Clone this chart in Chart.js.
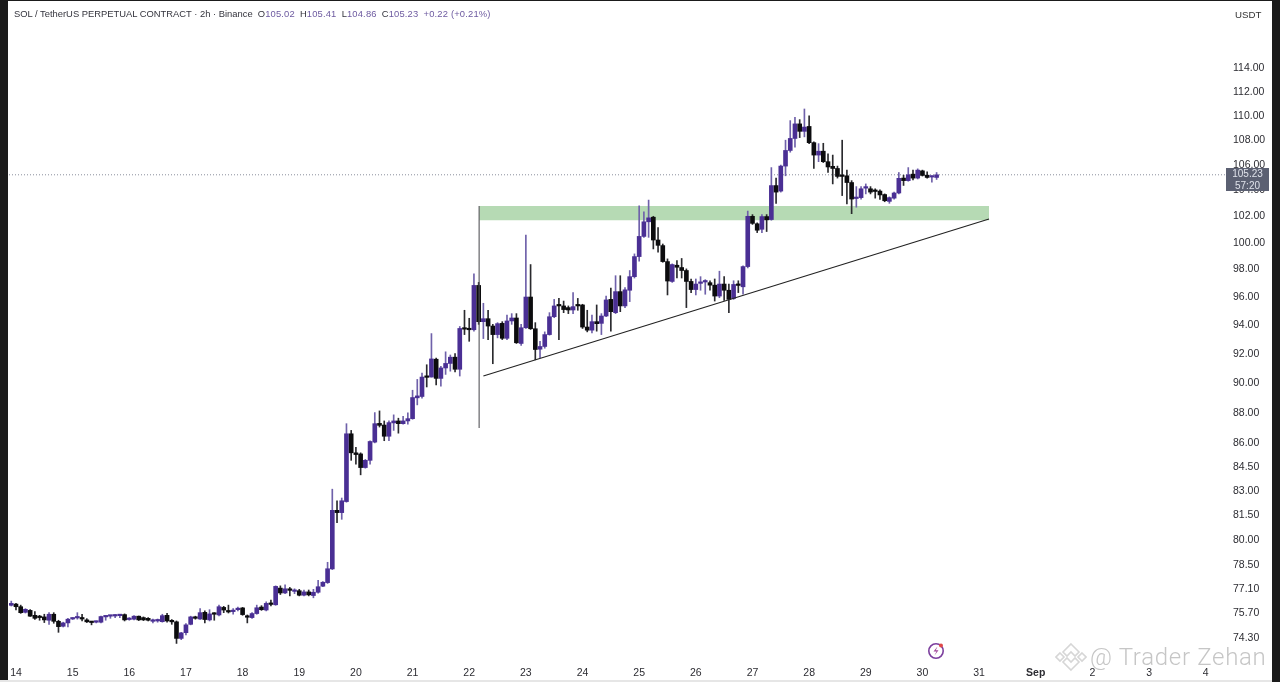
<!DOCTYPE html>
<html><head><meta charset="utf-8">
<script src="https://cdn.jsdelivr.net/npm/chart.js@4"></script>
<style>
html,body{margin:0;padding:0;background:#1b1b1b;width:1280px;height:682px;overflow:hidden}
#wrap{position:absolute;left:8px;top:1px;width:1264px;height:679px;background:#fff}
#foot{position:absolute;left:0;top:680px;width:1272px;height:2px;background:#e6e6e6}
canvas{position:absolute;left:0;top:0}
.t{position:absolute;font-family:"Liberation Sans",sans-serif;white-space:nowrap}
#head{left:6px;top:7px;font-size:9.4px;color:#33333c}
#head b{font-weight:400;color:#6d5aa0;letter-spacing:.17px}
#usdt{left:1227px;top:8px;font-size:9.7px;color:#333}
#tag{left:1218px;top:167px;width:43px;height:23px;background:#5b6072;color:#dfe2ea;font-size:10px;line-height:11.5px;text-align:center}
#wm{left:1082px;top:642px;font-size:24px;font-weight:300;color:#c6c6c6;letter-spacing:.7px;font-family:Roboto,"Liberation Sans",sans-serif}
svg{position:absolute}
</style></head><body>
<div id="foot"></div>
<div id="wrap">
<canvas id="c" width="1264" height="679"></canvas>
<div class="t" id="head">SOL / TetherUS PERPETUAL CONTRACT · 2h · Binance &nbsp;O<b>105.02</b> &nbsp;H<b>105.41</b> &nbsp;L<b>104.86</b> &nbsp;C<b>105.23</b> &nbsp;<b>+0.22 (+0.21%)</b></div>
<div class="t" id="usdt">USDT</div>
<div class="t" id="tag">105.23<br>57:20</div>
<div class="t" id="wm">@ Trader Zehan</div>
<svg style="left:1047px;top:641px" width="32" height="30" viewBox="0 0 32 30" fill="none" stroke="#d6d6d6" stroke-width="1.6"><path d="M16 2 24 10 20 14 16 10 12 14 8 10Z"/><path d="M5 11 9 15 5 19 1 15Z"/><path d="M27 11 31 15 27 19 23 15Z"/><path d="M16 28 24 20 20 16 16 20 12 16 8 20Z"/></svg>
<svg style="left:918px;top:640px" width="20" height="20" viewBox="0 0 20 20" fill="none"><circle cx="10" cy="10" r="7.2" stroke="#7c3f9e" stroke-width="1.6"/><path d="M11.5 5.5 7.5 10.5H10.5L8.5 14.5 12.5 9.2H9.8Z" fill="#a0489a"/><circle cx="15" cy="4.5" r="2" fill="#e04848"/></svg>
</div>
<script>
const firstIndex = -1;
const opens = [76.16,76.23,76.08,75.76,75.87,75.59,75.50,75.50,75.31,75.65,75.25,74.97,75.16,75.38,75.44,75.42,75.33,75.20,75.20,75.20,75.50,75.54,75.55,75.57,75.63,75.35,75.37,75.54,75.46,75.42,75.25,75.27,75.23,75.59,75.27,75.22,
74.29,74.61,75.08,75.48,75.38,75.76,75.33,75.70,75.61,76.04,75.85,75.80,75.91,76.01,75.55,75.46,75.69,76.06,75.89,76.27,76.19,77.15,76.87,77.11,76.96,77.00,76.74,76.93,76.72,76.91,77.26,77.47,
78.27,81.79,81.65,82.33,86.63,85.40,85.33,84.46,84.92,86.09,87.31,87.20,86.47,87.34,87.47,87.29,87.47,87.62,89.00,89.09,90.44,90.40,91.62,90.31,91.02,91.33,91.76,90.93,
93.79,93.74,93.67,96.84,94.24,94.45,93.93,93.33,94.12,93.07,94.29,94.50,92.71,93.81,96.0,93.74,92.31,92.50,93.33,94.59,95.43,95.36,95.24,95.07,95.43,95.43,93.86,93.64,94.24,94.12,94.64,95.83,
94.88,96.39,95.36,96.49,97.48,98.96,100.47,101.58,101.93,100.2,99.78,98.59,97.13,98.32,98.15,97.93,97.13,96.54,96.99,97.09,97.04,96.86,96.07,96.94,96.49,95.9,96.94,96.74,98.22,102.0,101.43,101.01,101.98,
101.75,104.38,103.95,105.92,107.17,108.14,109.33,108.72,109.12,107.8,106.8,107.11,106.27,105.9,105.73,105.15,105.15,104.62,103.37,103.44,104.18,104.13,104.0,103.95,103.68,103.15,103.4,103.8,104.97,104.77,105.28,104.97,105.54,105.2,105.05,105.02];
const closes = [76.27,76.08,75.74,75.93,75.54,75.42,75.46,75.33,75.65,75.25,74.95,75.16,75.37,75.44,75.50,75.38,75.22,75.18,75.23,75.52,75.54,75.57,75.59,75.61,75.33,75.42,75.54,75.33,75.33,75.31,75.31,75.35,75.57,75.27,75.22,74.29,
74.60,75.05,75.50,75.42,75.74,75.35,75.67,75.65,76.08,75.89,75.78,75.85,75.99,75.63,75.48,75.69,76.02,75.91,76.27,76.21,77.25,76.87,77.11,77.02,77.00,76.74,76.93,76.76,76.91,77.23,77.49,78.28,
81.79,81.65,82.38,86.63,85.40,85.29,84.46,84.92,86.13,87.29,87.18,86.47,87.36,87.47,87.29,87.47,87.62,89.02,89.13,90.40,90.38,91.64,90.31,91.02,91.33,91.76,90.93,93.76,
93.71,93.67,96.84,94.24,94.45,93.93,93.33,94.10,93.07,94.29,94.50,92.76,93.81,96.0,93.74,92.29,92.50,93.33,94.59,95.36,95.36,95.10,95.07,95.31,95.36,93.86,93.64,94.24,94.10,94.64,95.79,94.95,
96.39,95.36,96.52,97.48,98.96,100.47,101.58,101.88,100.2,99.8,98.59,97.16,98.37,98.17,97.93,97.13,96.54,96.94,97.04,97.13,96.86,96.07,96.94,96.49,95.83,96.91,96.84,98.22,102.0,101.46,100.94,101.98,101.73,
104.38,103.87,105.92,107.17,108.14,109.33,108.72,109.07,107.8,106.8,107.11,106.27,105.85,105.73,105.1,105.1,104.62,103.33,103.44,104.13,104.23,103.87,103.92,103.65,103.2,103.44,103.8,104.95,104.77,105.23,104.97,105.6,105.18,105.02,105.08,105.23];
const highs = [76.40,76.27,76.17,75.97,75.91,75.80,75.59,75.65,75.74,75.74,75.31,75.20,75.42,75.46,75.74,75.65,75.40,75.22,75.27,75.55,75.55,75.59,75.63,75.65,75.67,75.46,75.57,75.55,75.50,75.46,75.37,75.38,75.65,75.70,75.35,75.27,
74.63,75.12,75.54,75.54,75.97,75.84,75.91,75.74,76.17,76.10,76.17,75.97,76.06,76.04,75.61,75.74,76.17,76.14,76.36,76.46,77.28,77.28,77.34,77.19,77.11,77.08,77.04,77.04,77.08,77.60,77.53,78.66,
83.10,82.38,82.55,87.29,86.85,85.75,85.40,84.98,86.18,88.02,88.13,87.47,87.47,87.87,87.65,87.78,88.00,89.51,90.24,90.67,91.24,93.40,91.69,91.13,92.13,91.91,92.00,93.90,
95.05,94.48,97.68,97.06,95.55,95.05,94.05,94.17,94.24,94.71,94.81,94.81,94.05,100.57,98.37,94.17,92.86,93.52,94.88,95.83,95.90,95.71,95.36,96.32,95.90,95.48,95.05,94.71,95.43,94.81,96.07,96.64,
97.55,97.55,96.69,97.93,99.16,102.8,102.35,103.25,102.0,101.14,99.9,98.79,98.42,98.67,98.82,98.05,97.31,97.31,97.48,97.26,97.18,97.31,97.88,97.48,96.94,97.18,97.18,98.27,102.4,102.13,101.5,102.13,102.13,
105.8,104.97,106.0,108.0,109.6,109.87,109.68,110.56,110.0,107.86,107.72,107.75,106.89,106.8,105.92,108.0,105.6,104.77,104.3,104.3,104.51,104.3,104.13,104.05,103.73,103.5,103.87,105.41,105.2,105.8,105.6,105.7,105.6,105.46,105.13,105.41];
const lows = [76.12,75.89,75.70,75.72,75.52,75.35,75.31,75.18,75.08,75.14,74.63,74.93,74.93,75.35,75.37,75.27,75.18,75.05,75.16,75.16,75.31,75.42,75.46,75.46,75.27,75.31,75.33,75.29,75.29,75.27,75.16,75.20,75.20,75.20,75.08,74.01,
74.22,74.48,75.05,75.37,75.35,75.16,75.27,75.31,75.55,75.74,75.72,75.65,75.84,75.59,75.16,75.42,75.65,75.87,75.84,76.12,76.16,76.78,76.83,76.70,76.83,76.70,76.70,76.70,76.59,76.85,77.23,77.42,
78.23,81.04,81.24,82.29,84.92,84.67,84.00,84.42,84.67,86.04,87.07,86.18,86.18,86.85,86.67,87.25,87.25,87.58,88.53,88.98,89.73,90.40,89.87,89.78,90.58,90.80,90.75,90.47,
93.33,92.86,93.57,94.05,93.05,92.98,91.31,93.10,92.98,92.98,94.05,92.71,92.57,93.76,93.69,91.58,91.73,92.38,93.29,94.52,92.98,94.88,94.81,94.81,95.05,93.76,93.52,93.45,93.57,93.33,94.59,93.57,
94.81,94.95,95.24,95.67,97.38,98.62,100.40,100.40,99.53,99.28,98.54,96.15,97.06,97.38,97.38,95.24,96.32,96.15,96.49,96.20,96.49,95.71,95.95,95.76,94.88,95.83,96.32,96.2,98.12,101.38,100.76,100.76,100.84,
101.7,103.0,103.87,105.15,107.03,107.44,108.21,108.27,107.72,105.73,106.27,106.2,105.41,104.51,104.97,103.6,102.95,102.2,102.7,103.33,103.73,103.73,103.4,103.3,103.12,103.0,103.33,103.73,104.39,104.72,104.82,104.9,105.13,104.97,104.65,104.86];
const yTicks = [74.30,75.70,77.10,78.50,80,81.50,83,84.50,86,88,90,92,94,96,98,100,102,104,106,108,110,112,114];
const xTickIndex = [0,12,24,36,48,60,72,84,96,108,120,132,144,156,168,180,192,204,216,228,240,252];
const xTickLabels = ["14","15","16","17","18","19","20","21","22","23","24","25","26","27","28","29","30","31","Sep","2","3","4"];
const zoneTop = 102.8, zoneBottom = 101.7, zoneStart = 98.1, zoneEnd = 206.1;
const trendStart = [99, 90.47], trendEnd = [206.1, 101.8];
const lastPrice = 105.23, vLineLow = 87.0;
const axisMin = -1.48, axisMax = 256.3, priceMin = 73.37, priceMax = 119.72;

const UP = "#4a2f94", DOWN = "#0c0c0e", UPW = "#6f61aa", DOWNW = "#2a2a2e";
const isUp = i => closes[i] >= opens[i];
const bodies = opens.map((o,i)=>({x:firstIndex+i, y:[Math.min(o,closes[i]),Math.max(o,closes[i])]}));
const wicks = highs.map((h,i)=>({x:firstIndex+i, y:[lows[i],h]}));
const font = {family:'"Liberation Sans",sans-serif', size:10.5};
new Chart(document.getElementById("c"),{
  type:"bar",
  data:{datasets:[
    {type:"bar",data:bodies,grouped:false,order:2,barThickness:4,minBarLength:1.5,
     backgroundColor:opens.map((_,i)=>isUp(i)?UP:DOWN)},
    {type:"bar",data:wicks,grouped:false,order:3,barThickness:1,
     backgroundColor:opens.map((_,i)=>isUp(i)?UPW:DOWNW)},
    {type:"line",data:[{x:zoneStart,y:zoneTop},{x:zoneEnd,y:zoneTop}],order:5,pointRadius:0,borderWidth:0,
     borderColor:"rgba(0,0,0,0)",backgroundColor:"#b6dab4",fill:{value:zoneBottom}},
    {type:"line",data:[{x:trendStart[0],y:trendStart[1]},{x:trendEnd[0],y:trendEnd[1]}],order:1,pointRadius:0,borderWidth:1.1,borderColor:"#222"},
    {type:"line",data:[{x:zoneStart,y:zoneTop},{x:zoneStart,y:vLineLow}],order:1,pointRadius:0,borderWidth:1.1,borderColor:"#55555a"},
    {type:"line",data:[{x:axisMin,y:lastPrice},{x:axisMax,y:lastPrice}],order:6,pointRadius:0,borderWidth:1,borderDash:[1,2],borderColor:"#8a8f9c"}
  ]},
  options:{
    responsive:false,animation:false,
    layout:{padding:{left:1,top:2,right:0,bottom:0}},
    plugins:{legend:{display:false},tooltip:{enabled:false}},
    scales:{
      x:{type:"linear",position:"bottom",min:axisMin,max:axisMax,offset:false,bounds:"data",
        grid:{display:false,drawTicks:false},border:{display:false},
        afterBuildTicks:s=>{s.ticks=xTickIndex.map(v=>({value:v}));},
        afterFit:s=>{s.height=25;s.paddingLeft=0;s.paddingRight=0;},
        ticks:{autoSkip:false,maxRotation:0,minRotation:0,padding:12,color:"#2c2c32",
          font:ctx=>({...font,weight:xTickLabels[ctx.index]==="Sep"?"bold":"normal"}),
          callback:(v,i)=>xTickLabels[i]}},
      y:{type:"logarithmic",position:"right",min:priceMin,max:priceMax,
        grid:{display:false,drawTicks:false},border:{display:false},
        afterBuildTicks:s=>{s.ticks=yTicks.map(v=>({value:v}));},
        afterFit:s=>{s.width=46;s.paddingTop=0;s.paddingBottom=0;},
        ticks:{autoSkip:false,padding:7,color:"#2c2c32",font,callback:v=>Number(v).toFixed(2)}}
    }
  }
});
</script>
</body></html>
